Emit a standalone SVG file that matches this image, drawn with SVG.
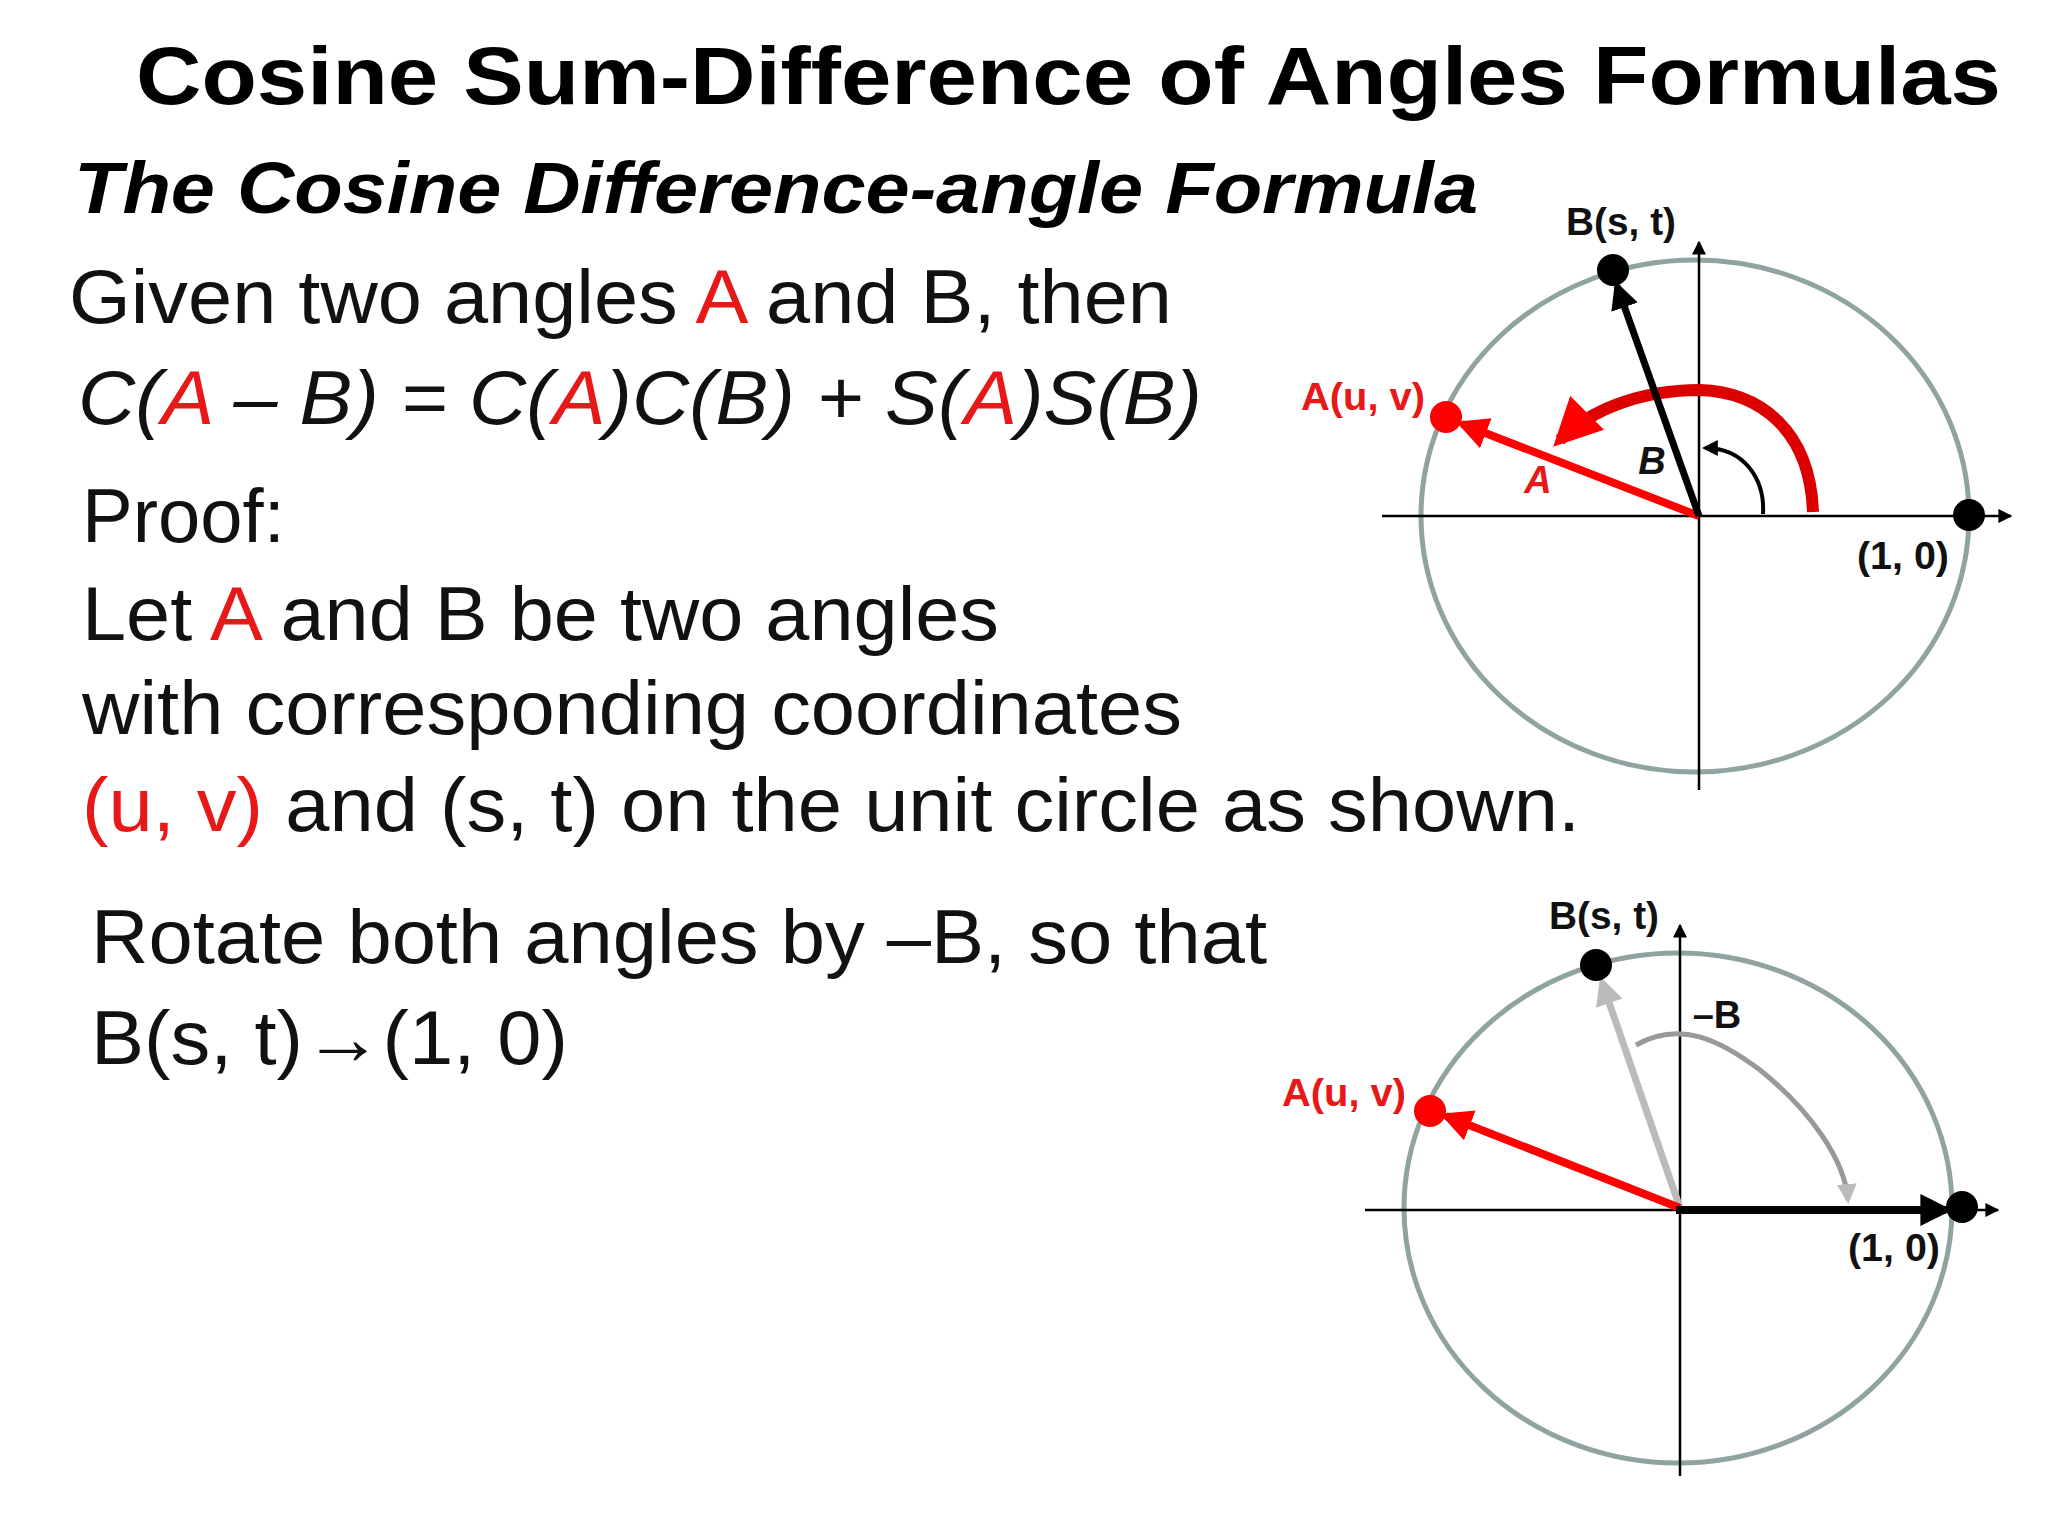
<svg xmlns="http://www.w3.org/2000/svg" width="2048" height="1536" viewBox="0 0 2048 1536">
<style>
text{font-family:"Liberation Sans",Arial,sans-serif}
.body{font-size:76px;fill:#111}
.r{fill:#e81818}
.lbl{font-size:38px;font-weight:bold;fill:#111}
.circ{fill:none;stroke:#8fa3a0;stroke-width:5}
.axis{stroke:#000;stroke-width:2.5;fill:none}
</style>
<defs>
<marker id="ax" viewBox="0 0 10 10" refX="9" refY="5" markerWidth="14" markerHeight="14" markerUnits="userSpaceOnUse" orient="auto"><path d="M0,0L10,5L0,10z" fill="#000"/></marker>
<marker id="ak" viewBox="0 0 10 10" refX="8" refY="5" markerWidth="4" markerHeight="4" orient="auto"><path d="M0,0L10,5L0,10z" fill="#000"/></marker>
<marker id="ar" viewBox="0 0 10 10" refX="8" refY="5" markerWidth="4" markerHeight="4" orient="auto"><path d="M0,0L10,5L0,10z" fill="#f00"/></marker>
<marker id="ag" viewBox="0 0 10 10" refX="8" refY="5" markerWidth="4" markerHeight="4" orient="auto"><path d="M0,0L10,5L0,10z" fill="#bbb"/></marker>
</defs>
<rect width="2048" height="1536" fill="#fff"/>
<g id="texts">
<text x="136" y="104" font-size="82" font-weight="bold" textLength="1865" lengthAdjust="spacingAndGlyphs">Cosine Sum-Difference of Angles Formulas</text>
<text x="74" y="213" font-size="72" font-weight="bold" font-style="italic" textLength="1404" lengthAdjust="spacingAndGlyphs">The Cosine Difference-angle Formula</text>
<text class="body" x="69" y="323" textLength="1103" lengthAdjust="spacingAndGlyphs">Given two angles <tspan class="r">A</tspan> and B, then</text>
<text class="body" x="78" y="424" font-style="italic" textLength="1124" lengthAdjust="spacingAndGlyphs">C(<tspan class="r">A</tspan> – B) = C(<tspan class="r">A</tspan>)C(B) + S(<tspan class="r">A</tspan>)S(B)</text>
<text class="body" x="82" y="542">Proof:</text>
<text class="body" x="82" y="640" textLength="917" lengthAdjust="spacingAndGlyphs">Let <tspan class="r">A</tspan> and B be two angles</text>
<text class="body" x="82" y="734" textLength="1100" lengthAdjust="spacingAndGlyphs">with corresponding coordinates</text>
<text class="body" x="82" y="831" textLength="1498" lengthAdjust="spacingAndGlyphs"><tspan class="r">(u, v)</tspan> and (s, t) on the unit circle as shown.</text>
<text class="body" x="91" y="963" textLength="1176" lengthAdjust="spacingAndGlyphs">Rotate both angles by –B, so that</text>
<text class="body" x="91" y="1064" textLength="477" lengthAdjust="spacingAndGlyphs">B(s, t)→(1, 0)</text>
</g>
<g id="diagram1">
<ellipse class="circ" cx="1695" cy="516" rx="274" ry="256"/>
<line class="axis" x1="1382" y1="516" x2="2011" y2="516" marker-end="url(#ax)"/>
<line class="axis" x1="1699" y1="790" x2="1699" y2="242" marker-end="url(#ax)"/>
<path d="M1813,512 C1810,430 1760,392 1700,390 C1640,390 1590,410 1560,440" fill="none" stroke="#d00" stroke-width="12" marker-end="url(#ar)"/>
<path d="M1763,514 C1765,480 1745,448 1705,448" fill="none" stroke="#000" stroke-width="4" marker-end="url(#ak)"/>
<line x1="1699" y1="516" x2="1462" y2="424" stroke="#f00" stroke-width="8" marker-end="url(#ar)"/>
<line x1="1699" y1="516" x2="1617" y2="286" stroke="#000" stroke-width="7" marker-end="url(#ak)"/>
<circle cx="1613" cy="270" r="16" fill="#000"/>
<circle cx="1446" cy="417" r="16" fill="#f00"/>
<circle cx="1969" cy="515" r="16" fill="#000"/>
<text class="lbl" x="1621" y="235" text-anchor="middle" textLength="110" lengthAdjust="spacingAndGlyphs">B(s, t)</text>
<text class="lbl" x="1425" y="410" text-anchor="end" style="fill:#e81818" textLength="124" lengthAdjust="spacingAndGlyphs">A(u, v)</text>
<text class="lbl" x="1903" y="569" text-anchor="middle" textLength="92" lengthAdjust="spacingAndGlyphs">(1, 0)</text>
<text class="lbl" x="1652" y="474" text-anchor="middle" font-style="italic">B</text>
<text class="lbl" x="1538" y="493" text-anchor="middle" font-style="italic" style="fill:#e81818">A</text>
</g>
<g id="diagram2">
<ellipse class="circ" cx="1678" cy="1208" rx="274" ry="255"/>
<line class="axis" x1="1365" y1="1210" x2="1998" y2="1210" marker-end="url(#ax)"/>
<line class="axis" x1="1680" y1="1476" x2="1680" y2="925" marker-end="url(#ax)"/>
<path d="M1636,1045 C1680,1020 1720,1040 1760,1070 C1810,1110 1845,1160 1848,1200" fill="none" stroke="#999" stroke-width="5" marker-end="url(#ag)"/>
<line x1="1680" y1="1208" x2="1602" y2="982" stroke="#bbb" stroke-width="7" marker-end="url(#ag)"/>
<line x1="1680" y1="1208" x2="1446" y2="1116" stroke="#f00" stroke-width="8" marker-end="url(#ar)"/>
<line x1="1676" y1="1210" x2="1946" y2="1210" stroke="#000" stroke-width="8" marker-end="url(#ak)"/>
<circle cx="1596" cy="965" r="16" fill="#000"/>
<circle cx="1430" cy="1111" r="16" fill="#f00"/>
<circle cx="1962" cy="1207" r="16" fill="#000"/>
<text class="lbl" x="1604" y="929" text-anchor="middle" textLength="110" lengthAdjust="spacingAndGlyphs">B(s, t)</text>
<text class="lbl" x="1406" y="1106" text-anchor="end" style="fill:#e81818" textLength="124" lengthAdjust="spacingAndGlyphs">A(u, v)</text>
<text class="lbl" x="1894" y="1261" text-anchor="middle" textLength="92" lengthAdjust="spacingAndGlyphs">(1, 0)</text>
<text class="lbl" x="1717" y="1028" text-anchor="middle" font-size="28">–B</text>
</g>
</svg>
